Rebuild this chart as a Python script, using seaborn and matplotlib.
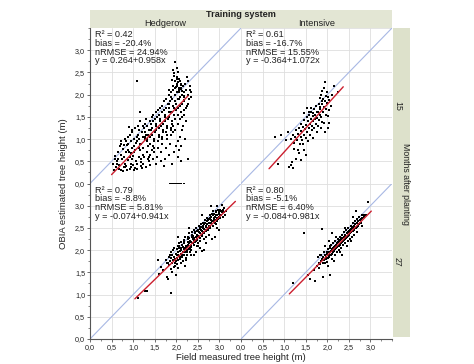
import numpy as np
import pandas as pd
import seaborn as sns
import matplotlib.pyplot as plt
from matplotlib.patches import Rectangle
from matplotlib.ticker import MultipleLocator, FuncFormatter

# ---- data (field height, OBIA height) ----
hed15_x = [0.54, 0.57, 0.56, 0.61, 0.59, 0.63, 0.66, 0.64, 0.68, 0.62,
           0.71, 0.69, 0.73, 0.67, 0.72, 0.76, 0.74, 0.78, 0.73, 0.77,
           0.81, 0.79, 0.83, 0.78, 0.82, 0.80, 0.86, 0.84, 0.88, 0.83, 0.87, 0.85,
           0.91, 0.89, 0.93, 0.88, 0.92, 0.90, 0.94, 0.96, 0.94, 0.98, 0.93, 0.97, 0.95,
           1.01, 0.99, 1.03, 0.98, 1.02, 1.00, 1.04, 0.97, 1.06, 1.04, 1.08, 1.03, 1.07, 1.05,
           1.08, 1.11, 1.09, 1.13, 1.08, 1.12, 1.10, 1.14,
           1.16, 1.14, 1.18, 1.13, 1.17, 1.15, 1.19,
           1.21, 1.19, 1.23, 1.18, 1.22, 1.20, 1.24, 1.17,
           1.26, 1.24, 1.28, 1.23, 1.27, 1.25, 1.29,
           1.31, 1.29, 1.33, 1.28, 1.32, 1.30, 1.34, 1.27,
           1.36, 1.34, 1.38, 1.33, 1.37, 1.35, 1.39,
           1.41, 1.39, 1.43, 1.38, 1.42, 1.40, 1.44, 1.37,
           1.46, 1.44, 1.48, 1.43, 1.47, 1.45, 1.49,
           1.51, 1.49, 1.53, 1.48, 1.52, 1.50, 1.54, 1.47,
           1.56, 1.54, 1.58, 1.53, 1.57, 1.55, 1.59,
           1.61, 1.59, 1.63, 1.58, 1.62, 1.60, 1.64, 1.57,
           1.66, 1.64, 1.68, 1.63, 1.67, 1.65, 1.69,
           1.71, 1.69, 1.73, 1.68, 1.72, 1.70, 1.74, 1.67, 1.72,
           1.76, 1.74, 1.78, 1.73, 1.77, 1.75, 1.79,
           1.81, 1.79, 1.83, 1.78, 1.82, 1.80, 1.84, 1.77, 1.82,
           1.86, 1.84, 1.88, 1.83, 1.87, 1.85, 1.89, 1.86,
           1.91, 1.89, 1.93, 1.88, 1.92, 1.90, 1.94, 1.87, 1.93, 1.90, 1.91,
           1.96, 1.94, 1.98, 1.93, 1.97, 1.95, 1.99, 1.96, 1.92, 1.94,
           2.01, 1.99, 2.03, 1.98, 2.02, 2.00, 2.04, 1.97, 2.01, 2.03, 2.00,
           2.06, 2.04, 2.08, 2.03, 2.07, 2.05, 2.09, 2.02, 2.06, 2.03, 2.04,
           2.11, 2.09, 2.13, 2.08, 2.12, 2.10, 2.14, 2.07, 2.11, 2.08,
           2.16, 2.14, 2.18, 2.13, 2.17, 2.15, 2.19, 2.12, 2.12,
           2.21, 2.19, 2.23, 2.18, 2.22, 2.20, 2.24, 2.19,
           2.26, 2.24, 2.28, 2.23, 2.27, 2.31, 2.29, 2.32, 2.28, 2.33, 2.35,
           1.87, 1.92, 1.97, 2.02, 2.07, 2.12, 2.17, 1.89, 1.94, 1.99,
           2.04, 2.09, 2.14, 2.19, 1.95, 2.01, 2.06, 2.11, 1.83, 1.88]
hed15_y = [0.45, 0.55, 0.30, 0.38, 0.62, 0.50, 0.56, 0.72, 0.33, 0.45,
           0.30, 0.85, 0.65, 0.42, 0.95, 0.78, 0.55, 0.38, 0.90, 0.28,
           0.37, 0.86, 0.70, 0.60, 1.00, 0.45, 0.86, 0.40, 0.75, 0.95, 0.52, 0.30,
           0.71, 1.05, 0.33, 0.88, 0.60, 1.28, 0.45, 0.95, 0.38, 0.80, 1.10, 0.55, 0.68,
           1.00, 0.42, 0.85, 1.15, 0.30, 0.62, 0.75, 1.20, 0.92, 0.36, 1.05, 0.70, 0.50, 1.25,
           2.30, 1.10, 0.45, 0.80, 0.95, 1.30, 0.33, 0.60,
           1.62, 1.00, 0.40, 1.20, 0.75, 0.88, 0.55,
           1.15, 0.48, 1.30, 0.90, 1.05, 0.35, 0.65, 1.40,
           1.25, 0.80, 1.00, 0.45, 1.35, 0.60, 1.10,
           1.30, 0.38, 0.95, 1.15, 0.70, 1.45, 0.55, 1.05,
           1.20, 0.85, 1.40, 1.00, 0.50, 1.10, 0.65,
           1.35, 0.90, 1.50, 0.42, 1.20, 1.05, 0.75, 0.60,
           1.40, 1.10, 0.80, 1.25, 0.55, 1.55, 0.95,
           1.45, 1.00, 1.30, 0.70, 1.60, 1.15, 0.45, 0.85,
           1.50, 1.20, 0.95, 1.35, 1.65, 0.60, 1.05,
           1.55, 1.10, 1.40, 0.80, 1.70, 1.25, 0.50, 0.95,
           1.60, 1.30, 1.00, 1.45, 1.75, 0.70, 1.15,
           1.65, 1.20, 1.50, 0.90, 1.85, 1.35, 0.55, 1.05, 0.40,
           1.70, 1.40, 1.10, 1.55, 1.90, 0.80, 1.25,
           1.80, 1.30, 1.60, 1.00, 2.00, 1.45, 0.65, 1.15, 2.10,
           1.85, 1.50, 1.20, 1.70, 2.05, 0.90, 1.35, 0.00,
           1.90, 1.40, 1.75, 1.10, 2.20, 1.60, 0.70, 1.25, 2.55, 0.00, 0.45,
           2.00, 1.55, 1.85, 1.30, 2.30, 1.70, 0.85, 2.74, 1.15, 0.00,
           2.05, 1.65, 1.90, 1.20, 2.40, 1.80, 0.95, 1.45, 2.60, 0.60, 0.00,
           2.10, 1.70, 1.95, 1.35, 2.35, 1.55, 1.05, 2.20, 0.75, 0.00, 2.50,
           2.15, 1.75, 2.00, 1.45, 2.25, 1.60, 1.20, 1.90, 0.85, 0.00,
           2.20, 1.80, 2.05, 1.50, 1.65, 1.30, 1.95, 0.50, 0.00,
           2.25, 1.85, 2.10, 1.55, 1.70, 1.00, 2.40, 0.00,
           2.00, 1.75, 2.30, 1.40, 0.55, 2.10, 1.90, 2.20, 1.80, 2.05, 1.95,
           1.95, 2.10, 2.15, 2.25, 2.05, 2.12, 1.98, 2.32, 2.42, 2.18,
           2.28, 2.30, 2.08, 1.88, 2.48, 2.35, 2.15, 2.22, 1.78, 1.62]

int15_x = [0.78, 0.93, 1.04, 1.08, 0.85, 1.12, 1.16, 1.20, 1.18, 1.28, 1.39, 1.51, 1.47,
           1.31, 1.43, 1.24, 1.35, 1.15, 1.20, 1.22, 1.25, 1.28, 1.30, 1.32, 1.35, 1.36,
           1.38, 1.40, 1.40, 1.42, 1.44, 1.45, 1.46, 1.48, 1.50, 1.50, 1.52, 1.53, 1.55,
           1.55, 1.57, 1.58, 1.60, 1.60, 1.62, 1.63, 1.64, 1.65, 1.66, 1.67, 1.68, 1.70,
           1.70, 1.72, 1.73, 1.74, 1.75, 1.76, 1.78, 1.78, 1.80, 1.80, 1.82, 1.82, 1.84,
           1.85, 1.85, 1.86, 1.87, 1.88, 1.88, 1.90, 1.90, 1.92, 1.92, 1.93, 1.94, 1.95,
           1.96, 1.97, 1.98, 2.00, 2.00, 2.01, 2.02, 2.05, 2.05, 2.08, 2.10, 2.16, 2.24,
           2.05, 2.02, 1.95, 1.57, 1.62, 1.68, 1.72, 1.76, 1.83, 1.88, 1.45, 1.52]
int15_y = [1.05, 1.09, 0.98, 1.17, 0.45, 0.37, 0.41, 0.35, 0.49, 0.56, 0.52, 0.64, 0.75,
           0.75, 0.90, 0.78, 0.68, 1.00, 1.10, 0.92, 1.05, 1.20, 0.98, 1.12, 1.25, 0.88,
           1.05, 1.18, 1.35, 0.98, 1.28, 1.10, 1.42, 1.22, 1.02, 1.32, 1.50, 1.15, 1.40,
           0.95, 1.25, 1.55, 1.35, 1.10, 1.45, 1.62, 1.20, 1.30, 1.52, 1.02, 1.40, 1.68,
           1.25, 1.55, 1.35, 1.75, 1.15, 1.48, 1.62, 1.30, 1.80, 1.42, 1.55, 1.92, 1.68,
           1.25, 2.00, 1.50, 1.78, 2.08, 1.38, 1.62, 1.90, 1.72, 2.15, 1.36, 1.85, 2.28,
           1.55, 1.98, 1.68, 1.82, 2.05, 1.51, 1.95, 1.66, 1.88, 1.75, 2.00, 2.20, 2.05,
           1.37, 1.25, 1.15, 1.62, 1.70, 1.58, 1.45, 1.62, 1.72, 1.85, 1.58, 1.70]

hed27_x = [1.11, 1.28, 1.31, 1.58, 1.61, 1.65, 1.70, 1.76, 1.78, 1.79, 1.80, 1.81, 1.82,
           1.84, 1.85, 1.86, 1.87, 1.88, 1.89, 1.88, 1.87, 1.90, 1.91, 1.92, 1.93, 1.94,
           1.95, 1.96, 1.94, 1.98, 1.99, 1.97, 2.00, 2.01, 2.02, 1.99, 2.03,
           2.02, 2.04, 2.01, 2.05, 2.06, 2.04, 2.07, 2.05, 2.08, 2.09, 2.07,
           2.10, 2.11, 2.09, 2.12, 2.10, 2.12, 2.13, 2.14, 2.15, 2.16, 2.14, 2.17, 2.15,
           2.18, 2.19, 2.17, 2.20, 2.21, 2.19, 2.22, 2.20, 2.22, 2.23, 2.24,
           2.25, 2.26, 2.24, 2.27, 2.25, 2.28, 2.29, 2.27, 2.30, 2.31, 2.29, 2.32, 2.30,
           2.32, 2.33, 2.34, 2.35, 2.36, 2.34, 2.37, 2.35, 2.38, 2.39, 2.37,
           2.40, 2.41, 2.39, 2.42, 2.40, 2.42, 2.43, 2.44, 2.45, 2.46, 2.44, 2.47, 2.45,
           2.48, 2.49, 2.47, 2.50, 2.51, 2.49, 2.52, 2.50, 2.52, 2.53, 2.54,
           2.55, 2.56, 2.54, 2.57, 2.55, 2.58, 2.59, 2.57, 2.60, 2.61, 2.59, 2.62, 2.60,
           2.62, 2.63, 2.64, 2.65, 2.66, 2.64, 2.67, 2.65, 2.68, 2.69, 2.67,
           2.70, 2.71, 2.69, 2.72, 2.70, 2.72, 2.73, 2.74, 2.75, 2.76, 2.74, 2.77, 2.75,
           2.78, 2.79, 2.77, 2.80, 2.81, 2.79, 2.82, 2.80, 2.82, 2.83, 2.84,
           2.85, 2.86, 2.84, 2.87, 2.85, 2.88, 2.89, 2.87, 2.90, 2.91, 2.89, 2.92,
           2.92, 2.93, 2.94, 2.94, 2.95, 2.95, 2.96, 2.97, 2.98, 2.99, 3.00, 3.01, 3.02,
           3.02, 3.03, 3.05, 3.06, 3.04, 3.08, 3.09, 3.10, 3.11, 3.15, 3.14,
           2.45, 2.55, 2.65, 2.70, 2.90, 3.00,
           2.05, 2.30, 2.60, 2.80, 2.50, 2.75, 2.95, 2.20]
hed27_y = [0.92, 1.08, 1.09, 1.78, 1.47, 1.62, 1.55, 1.78, 1.40, 1.70, 1.36, 1.72, 1.85,
           1.66, 1.90, 1.75, 1.58, 1.03, 1.51, 1.82, 1.95, 1.70, 1.88, 1.78, 2.00, 1.62,
           1.85, 1.72, 2.05, 1.80, 1.92, 1.65, 1.44, 1.88, 2.02, 1.75, 2.10,
           1.82, 1.95, 1.68, 1.90, 2.05, 1.78, 2.15, 1.60, 1.85, 1.98, 2.10,
           1.92, 2.05, 1.80, 2.18, 1.70, 2.00, 1.88, 2.12, 1.95, 2.08, 1.85, 2.22, 1.75,
           2.02, 2.15, 1.90, 2.05, 1.95, 2.20, 1.82, 2.30, 1.78, 2.10, 2.00,
           2.08, 2.18, 1.95, 2.30, 1.88, 2.12, 2.02, 2.25, 2.15, 2.05, 2.28, 1.95, 2.38,
           2.20, 2.10, 1.90, 2.18, 2.30, 2.08, 2.40, 2.00, 2.25, 2.15, 2.35,
           2.22, 1.89, 2.32, 2.12, 2.45, 2.28, 2.18, 2.40, 2.30, 2.20, 2.38, 2.10, 2.50,
           2.35, 2.25, 2.42, 2.32, 2.45, 2.22, 2.55, 2.15, 2.40, 2.30, 2.48,
           2.38, 2.50, 2.28, 2.58, 2.20, 2.45, 2.35, 2.52, 2.42, 2.55, 2.32, 2.62, 1.97,
           2.50, 2.40, 2.58, 2.48, 2.60, 2.38, 2.68, 2.25, 2.55, 2.45, 2.62,
           2.52, 2.65, 2.42, 2.72, 2.30, 2.58, 2.50, 2.68, 2.55, 2.70, 2.45, 2.78, 2.62,
           2.62, 2.52, 2.72, 2.60, 2.75, 2.50, 2.82, 2.68, 2.24, 2.65, 2.78,
           2.65, 2.80, 2.55, 2.72, 2.88, 2.70, 2.60, 2.82, 2.68, 2.85, 2.75, 2.58,
           2.78, 2.88, 2.65, 3.00, 2.72, 2.80, 2.70, 2.90, 2.75, 2.85, 2.82, 2.72, 2.90,
           2.78, 2.88, 3.02, 2.85, 2.80, 2.90, 2.75, 2.85, 2.95, 2.88, 2.80,
           1.95, 2.05, 2.00, 2.15, 2.30, 2.45,
           2.30, 2.50, 2.80, 3.00, 2.10, 2.35, 2.50, 1.65]

int27_x = [1.20, 1.47, 1.55, 1.61, 1.69, 1.72, 1.75, 1.78, 1.80, 1.81, 1.82, 1.85, 1.84,
           1.86, 1.88, 1.87, 1.89, 1.90, 1.91, 1.92, 1.93, 1.94, 1.95, 1.96, 1.94,
           1.98, 1.99, 2.00, 2.01, 2.02, 1.99, 2.02, 2.03, 2.05, 2.06, 2.04, 2.06,
           2.08, 2.09, 2.07, 2.10, 2.11, 2.09, 2.12, 2.12, 2.13, 2.14, 2.15, 2.16, 2.14,
           2.17, 2.18, 2.19, 2.20, 2.21, 2.19, 2.22, 2.22, 2.23, 2.25, 2.26, 2.24, 2.27,
           2.28, 2.29, 2.30, 2.31, 2.29, 2.32, 2.32, 2.33, 2.35, 2.36, 2.34, 2.37,
           2.38, 2.39, 2.40, 2.41, 2.39, 2.42, 2.42, 2.43, 2.45, 2.46, 2.44, 2.47,
           2.48, 2.49, 2.50, 2.51, 2.49, 2.52, 2.52, 2.53, 2.55, 2.56, 2.54, 2.57,
           2.58, 2.59, 2.60, 2.61, 2.59, 2.62, 2.62, 2.63, 2.65, 2.66, 2.64, 2.67,
           2.68, 2.69, 2.70, 2.71, 2.69, 2.72, 2.73, 2.75, 2.76, 2.74, 2.78, 2.79,
           2.80, 2.81, 2.85, 2.86, 2.90, 2.94,
           2.15, 2.30, 2.45, 2.55, 2.70, 2.60, 2.40, 2.20, 2.05, 1.95, 2.80, 2.35]
int27_y = [1.26, 2.39, 1.44, 1.34, 1.55, 1.31, 1.65, 1.85, 1.72, 1.60, 1.88, 1.75, 1.68,
           1.90, 2.48, 1.80, 1.40, 1.85, 1.70, 1.95, 1.78, 1.88, 1.90, 1.80, 1.72,
           1.85, 1.95, 1.92, 1.82, 2.02, 1.74, 1.64, 1.88, 1.95, 2.05, 1.85, 1.45,
           1.98, 1.90, 2.10, 2.02, 1.92, 2.12, 1.80, 2.39, 2.05, 1.95, 2.08, 1.98, 2.15,
           1.88, 2.10, 2.02, 2.12, 2.05, 2.20, 1.95, 2.15, 2.08, 2.18, 2.10, 2.25, 2.00,
           2.20, 2.12, 2.22, 2.15, 2.30, 2.05, 2.25, 2.18, 2.28, 2.20, 2.35, 2.12,
           2.30, 2.22, 2.32, 2.25, 2.40, 2.15, 2.35, 2.28, 2.38, 2.30, 2.45, 2.20,
           2.40, 2.32, 2.42, 2.35, 2.50, 2.25, 2.45, 2.38, 2.48, 2.40, 2.55, 2.30,
           2.50, 2.42, 2.52, 2.45, 2.60, 2.35, 2.55, 2.48, 2.58, 2.50, 2.65, 2.89,
           2.60, 2.52, 2.62, 2.55, 2.70, 2.65, 2.58, 2.68, 2.60, 2.75, 2.70, 2.62,
           2.72, 2.78, 2.75, 2.80, 2.80, 3.09,
           1.75, 1.95, 2.10, 2.20, 2.40, 2.75, 2.50, 2.30, 2.20, 2.10, 2.55, 1.90]

# regression lines as drawn (intercept, slope, x range)
fit_b0 = [-0.30, -0.364, -0.074, -0.084]
fit_b1 = [1.00, 1.072, 0.941, 0.981]
fit_x0 = [0.50, 0.65, 1.04, 1.12]
fit_x1 = [2.27, 2.37, 3.37, 3.02]

stats = ["R² = 0.42\nbias = -20.4%\nnRMSE = 24.94%\ny = 0.264+0.958x",
         "R² = 0.61\nbias = -16.7%\nnRMSE = 15.55%\ny = -0.364+1.072x",
         "R² = 0.79\nbias = -8.8%\nnRMSE = 5.81%\ny = -0.074+0.941x",
         "R² = 0.80\nbias = -5.1%\nnRMSE = 6.40%\ny = -0.084+0.981x"]
systems = ["Hedgerow", "Intensive"]
months = ["15", "27"]

panels = [(hed15_x, hed15_y), (int15_x, int15_y), (hed27_x, hed27_y), (int27_x, int27_y)]

sns.set_style("white")
plt.rcParams['font.family'] = ['Liberation Sans', 'DejaVu Sans']

W, H = 474, 364
fig, axs = plt.subplots(2, 2, figsize=(W / 100, H / 100), dpi=100)
fig.subplots_adjust(left=90 / W, right=392 / W, bottom=1 - 339 / H, top=1 - 28 / H,
                    wspace=0, hspace=0)

fmt = FuncFormatter(lambda v, p: f"{v:.1f}".replace(".", ","))
txt_col = "#222222"

for i, ax in enumerate(axs.flat):
    px, py = panels[i]
    df = pd.DataFrame({"field": px, "obia": py})
    ax.set_xlim(0, 3.5)
    ax.set_ylim(0, 3.5)
    ax.grid(True, color="#dedede", lw=0.6)
    ax.set_axisbelow(True)
    ax.plot([0, 3.5], [0, 3.5], color="#a8b8e4", lw=0.8, zorder=2)
    sns.scatterplot(data=df, x="field", y="obia", ax=ax, color="black", marker="s",
                    s=4, linewidth=0, zorder=3, clip_on=False)
    xx = np.array([fit_x0[i], fit_x1[i]])
    ax.plot(xx, fit_b0[i] + fit_b1[i] * xx, color="#cc1f2f", lw=1.0, zorder=4)
    ax.text(0.03, 0.985, stats[i], transform=ax.transAxes, ha="left", va="top",
            fontsize=6.6, color=txt_col, linespacing=0.95)

    ax.xaxis.set_major_locator(MultipleLocator(0.5))
    ax.yaxis.set_major_locator(MultipleLocator(0.5))
    ax.xaxis.set_minor_locator(MultipleLocator(0.25))
    ax.yaxis.set_minor_locator(MultipleLocator(0.25))
    ax.xaxis.set_major_formatter(fmt)
    ax.yaxis.set_major_formatter(fmt)
    ax.set_xlabel("")
    ax.set_ylabel("")
    for s in ax.spines.values():
        s.set_visible(False)
    row, col = divmod(i, 2)
    ax.tick_params(which="both", direction="out", color="#555555", labelsize=5.2,
                   labelcolor=txt_col, pad=1,
                   bottom=(row == 1), labelbottom=(row == 1),
                   left=(col == 0), labelleft=(col == 0))
    ax.tick_params(which="major", length=2.5, width=0.6)
    ax.tick_params(which="minor", length=1.5, width=0.5)
    if row == 1:
        ax.spines["bottom"].set_visible(True)
        ax.spines["bottom"].set_color("#555555")
        ax.spines["bottom"].set_linewidth(0.8)
        ax.set_xticks([0, 0.5, 1, 1.5, 2, 2.5, 3])
    if col == 0:
        ax.spines["left"].set_visible(True)
        ax.spines["left"].set_color("#555555")
        ax.spines["left"].set_linewidth(0.8)
        ax.set_yticks([0, 0.5, 1, 1.5, 2, 2.5, 3])

# facet strips
strip_col = "#e3e6d4"
fig.add_artist(Rectangle((90 / W, 1 - 28 / H), 302 / W, 18 / H, transform=fig.transFigure,
                         facecolor=strip_col, edgecolor="none"))
fig.add_artist(Rectangle((393 / W, 1 - 337 / H), 17 / W, 309 / H, transform=fig.transFigure,
                         facecolor="#dde1cb", edgecolor="none"))
fig.text(241 / W, 1 - 14.5 / H, "Training system", ha="center", va="center",
         fontsize=6.6, fontweight="bold", color=txt_col)
for j, name in enumerate(systems):
    fig.text((165.5 + 151 * j) / W, 1 - 23.5 / H, name, ha="center", va="center",
             fontsize=6.6, color=txt_col)
for j, m in enumerate(months):
    fig.text(397.5 / W, 1 - (106 + 156 * j) / H, m, ha="center", va="center",
             rotation=-90, fontsize=6.3, color=txt_col)
fig.text(405.5 / W, 1 - 184 / H, "Months after planting", ha="center", va="center",
         rotation=-90, fontsize=6.3, color=txt_col)

fig.text(241 / W, 1 - 357.5 / H, "Field measured tree height (m)", ha="center", va="center",
         fontsize=6.8, color=txt_col)
fig.text(64 / W, 1 - 184 / H, "OBIA estimated tree height (m)", ha="center", va="center",
         rotation=90, fontsize=6.8, color=txt_col)

fig.savefig("out.png", dpi=100, facecolor="white")
